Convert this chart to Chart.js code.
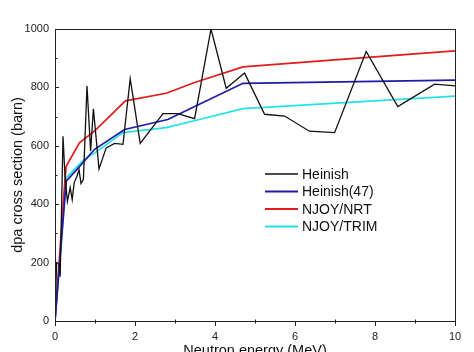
<!DOCTYPE html>
<html><head><meta charset="utf-8">
<script src="https://cdn.jsdelivr.net/npm/chart.js@4"></script>
<style>html,body{margin:0;padding:0;background:#fff}</style>
</head>
<body>
<canvas id="c" width="474" height="352"></canvas>
<script>
// ---- data ----
const xTicks = [0, 2, 4, 6, 8, 10];
const yTicks = [0, 200, 400, 600, 800, 1000];

const heinishE = [0, 0.04, 0.1, 0.13, 0.2, 0.25, 0.31, 0.38, 0.43, 0.48, 0.55, 0.6, 0.65, 0.71, 0.8, 0.89, 0.96, 1.1, 1.28, 1.49, 1.7, 1.88, 2.13, 2.7, 3.07, 3.49, 3.9, 4.28, 4.74, 5.24, 5.74, 6.36, 6.99, 7.78, 8.57, 9.49, 10];
const heinishV = [0, 200, 195, 152, 633, 496, 410, 457, 416, 474, 496, 519, 471, 485, 805, 582, 727, 521, 593, 608, 605, 830, 608, 710, 710, 693, 1000, 797, 849, 708, 702, 650, 645, 923, 734, 811, 805];

const heinish47E = [0, 0.28, 0.6, 0.99, 1.74, 2.82, 3.61, 4.7, 10];
const heinish47V = [0, 479, 527, 588, 656, 690, 742, 814, 825];

const nrtE = [0, 0.25, 0.28, 0.61, 1.0, 1.76, 2.78, 3.49, 4.7, 6.99, 10];
const nrtV = [0, 485, 530, 610, 652, 754, 780, 817, 870, 894, 925];

const trimE = [0, 0.28, 0.7, 0.99, 1.7, 2.78, 3.61, 4.7, 10];
const trimV = [0, 490, 550, 575, 645, 662, 690, 727, 770];

const labels = ['Heinish', 'Heinish(47)', 'NJOY/NRT', 'NJOY/TRIM'];
const colors = ['#111111', '#1c1ca8', '#e01c1c', '#22e2e6'];

const FONT = "'Liberation Sans', Arial, sans-serif";

function pts(e, v) { return e.map((x, i) => ({x: x, y: v[i]})); }

const series = [pts(heinishE, heinishV), pts(heinish47E, heinish47V), pts(nrtE, nrtV), pts(trimE, trimV)];

const frameTicks = {
  id: 'frameTicks',
  afterDraw(chart) {
    const {ctx, chartArea: a, scales: {x, y}} = chart;
    ctx.save();
    ctx.strokeStyle = '#222';
    ctx.lineWidth = 1;
    ctx.strokeRect(Math.round(a.left) + 0.5, Math.round(a.top) + 0.5, Math.round(a.right - a.left), Math.round(a.bottom - a.top));
    ctx.beginPath();
    for (let v = 0; v <= 1000; v += 100) {
      const py = Math.round(y.getPixelForValue(v)) + 0.5;
      const len = (v % 200 === 0) ? 4 : 2.5;
      ctx.moveTo(a.left, py); ctx.lineTo(a.left + len, py);
    }
    for (let v = 0; v <= 10; v += 1) {
      const px = Math.round(x.getPixelForValue(v)) + 0.5;
      if (v % 2 === 0) { ctx.moveTo(px, a.bottom); ctx.lineTo(px, a.bottom + 5); }
      else { ctx.moveTo(px, a.bottom - 1.5); ctx.lineTo(px, a.bottom + 2.5); }
    }
    ctx.stroke();
    // legend
    const lx0 = 265, lx1 = 298, tx = 302;
    const rows = [174, 191.5, 209, 226.5];
    ctx.font = '14px ' + FONT;
    ctx.textBaseline = 'middle';
    ctx.textAlign = 'left';
    chart.data.datasets.forEach((ds, i) => {
      ctx.strokeStyle = ds.borderColor;
      ctx.lineWidth = i === 0 ? 1.5 : 2;
      ctx.beginPath(); ctx.moveTo(lx0, rows[i]); ctx.lineTo(lx1, rows[i]); ctx.stroke();
      ctx.fillStyle = '#111';
      ctx.fillText(ds.label, tx, rows[i] + 1);
    });
    ctx.restore();
  }
};

new Chart(document.getElementById('c'), {
  type: 'line',
  data: {
    datasets: series.map((d, i) => ({
      label: labels[i],
      data: d,
      borderColor: colors[i],
      backgroundColor: colors[i],
      borderWidth: i === 0 ? 1.3 : 1.7,
      pointRadius: 0,
      fill: false,
      tension: 0
    }))
  },
  options: {
    responsive: false,
    animation: false,
    devicePixelRatio: 1,
    layout: { padding: { top: 29, right: 19, left: 0, bottom: 0 } },
    plugins: { legend: { display: false }, tooltip: { enabled: false } },
    scales: {
      x: {
        type: 'linear', min: 0, max: 10,
        afterBuildTicks: s => { s.ticks = xTicks.map(v => ({value: v})); },
        afterFit: s => { s.height = 31; },
        grid: { display: false, drawTicks: false },
        border: { display: false },
        ticks: { padding: 9, color: '#222', font: { family: FONT, size: 11 }, maxRotation: 0, callback: v => String(v) },
        title: { display: true, text: 'Neutron energy (MeV)', color: '#111', font: { family: FONT, size: 14.5 }, padding: { top: 0, bottom: -8 } }
      },
      y: {
        min: 0, max: 1000,
        afterBuildTicks: s => { s.ticks = yTicks.map(v => ({value: v})); },
        afterFit: s => { s.width = 55; },
        grid: { display: false, drawTicks: false },
        border: { display: false },
        ticks: { padding: 6, color: '#222', font: { family: FONT, size: 11 }, callback: v => String(v) },
        title: { display: true, text: 'dpa cross section (barn)', color: '#111', font: { family: FONT, size: 14.5 }, padding: { top: 9, bottom: 0 } }
      }
    }
  },
  plugins: [frameTicks]
});
</script>
</body></html>
